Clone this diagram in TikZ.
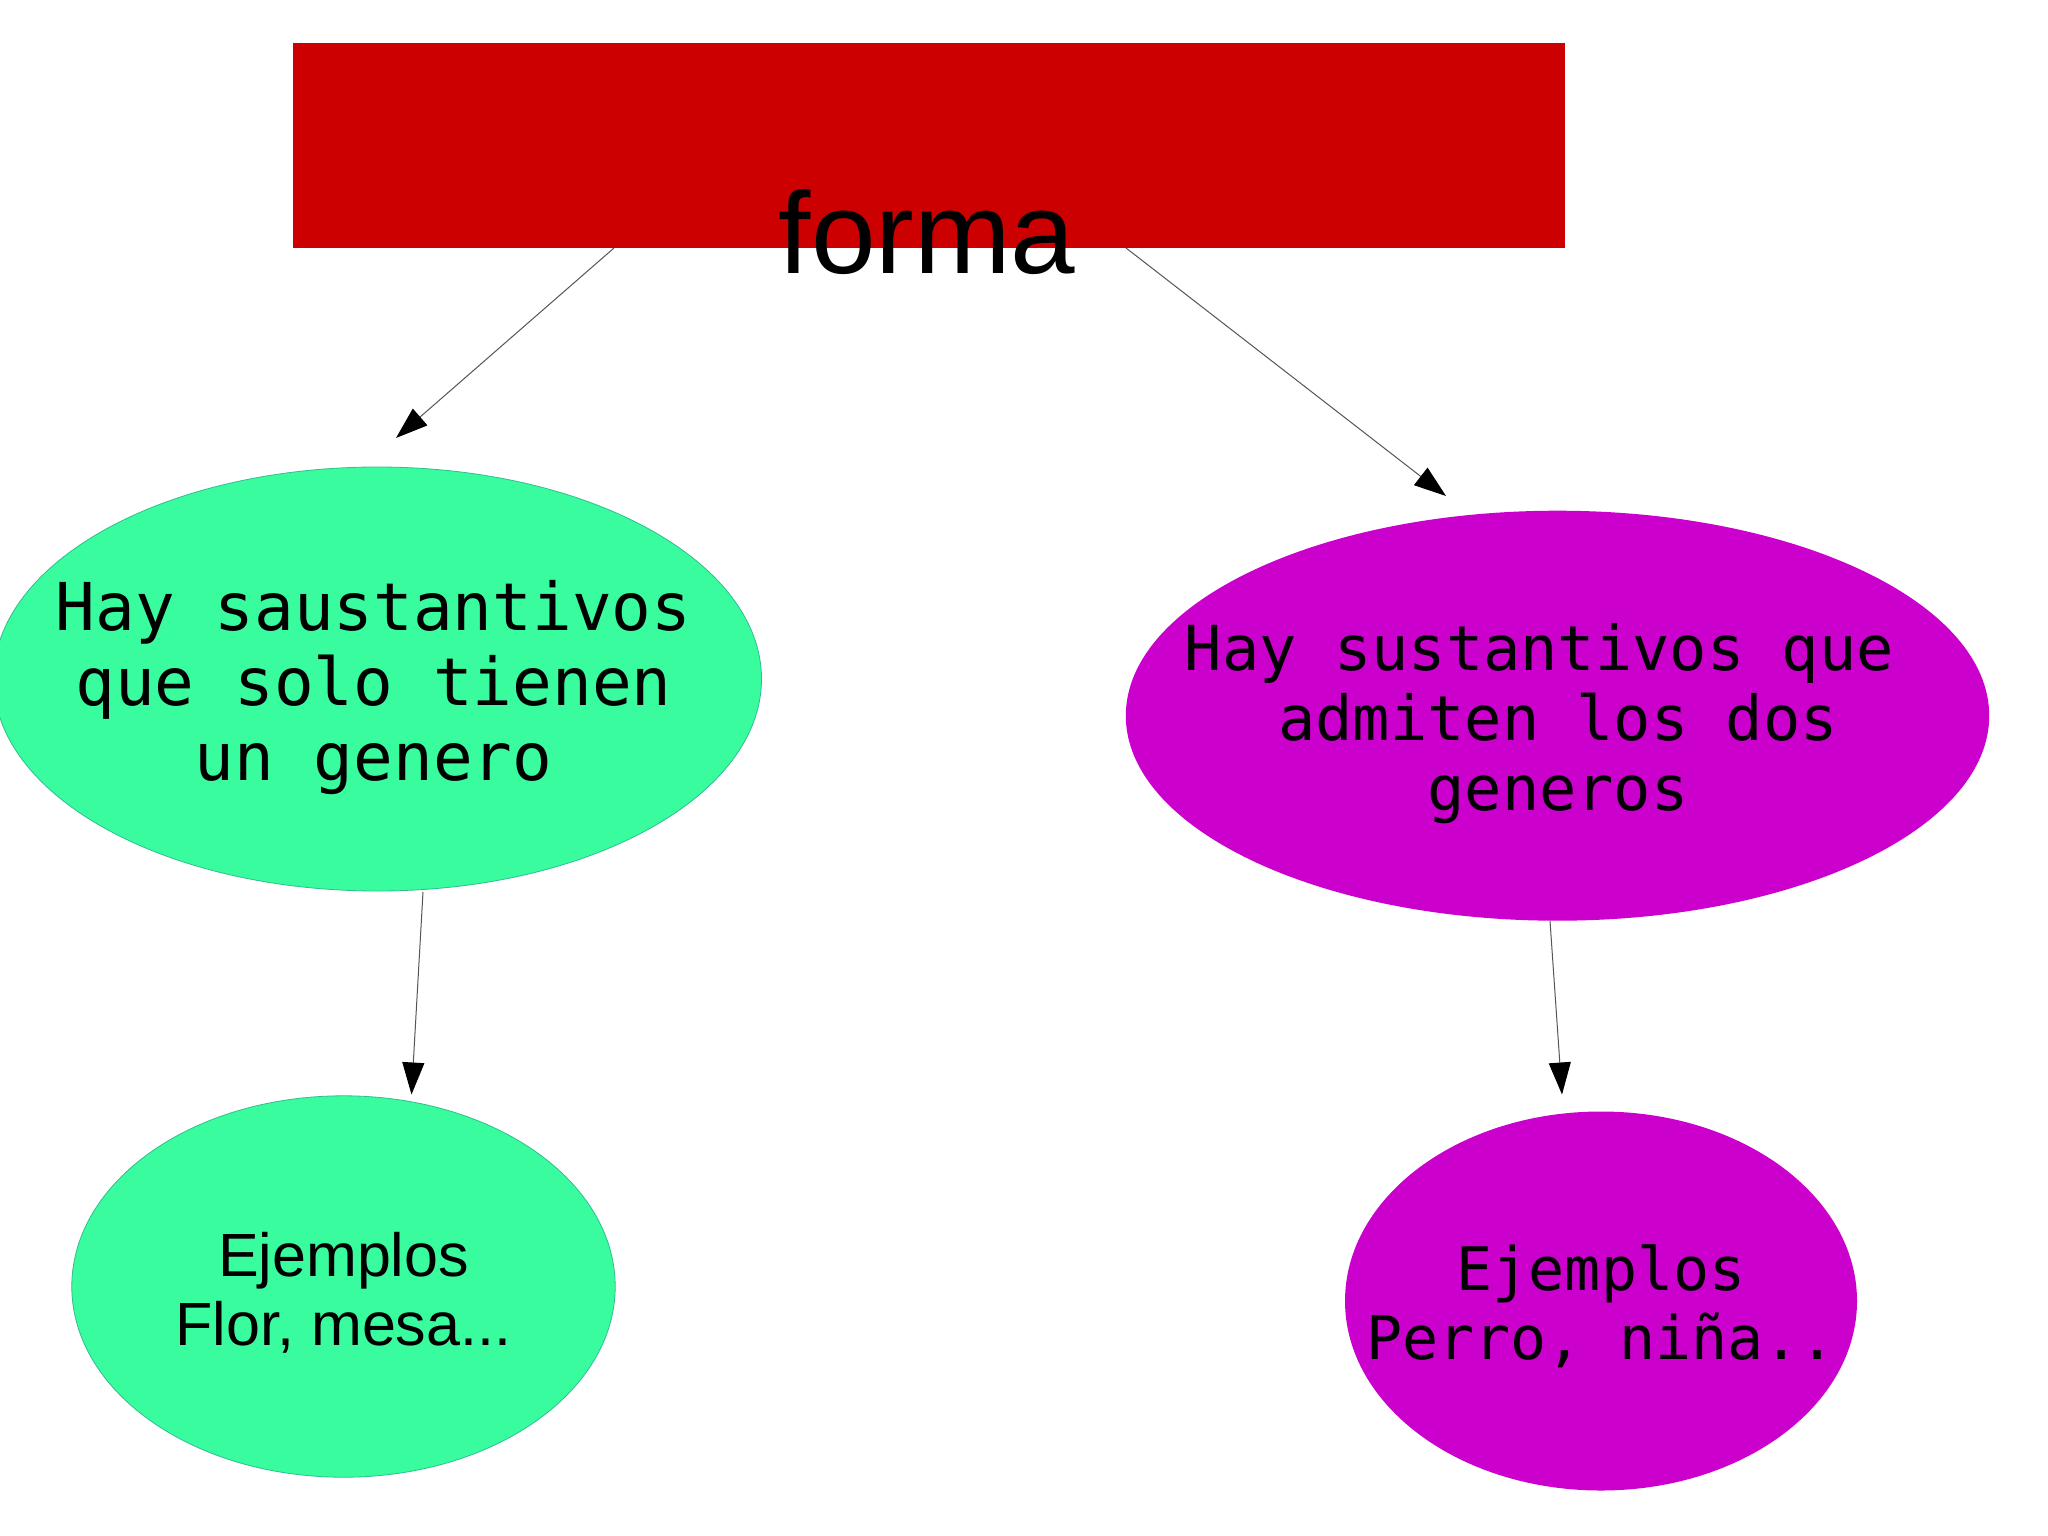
\documentclass[tikz,border=0pt]{standalone}
\usepackage{fontspec}
\setmainfont{Liberation Sans}
\newfontfamily\monofont{DejaVu Sans Mono}
\usetikzlibrary{shapes.geometric,arrows.meta}
\definecolor{titlered}{HTML}{CC0000}
\definecolor{mint}{HTML}{38FC9E}
\definecolor{mintline}{HTML}{2FBF8F}
\definecolor{magenta2}{HTML}{CC00CC}
\definecolor{linkgray}{HTML}{555555}
\tikzset{
  titlebox/.style={rectangle, fill=titlered, draw=none, inner sep=0pt},
  greenell/.style={ellipse, fill=mint, draw=mintline, line width=0.4pt, inner sep=0pt},
  magell/.style={ellipse, fill=magenta2, draw=none, inner sep=0pt},
  txt/.style={align=center, inner sep=0pt, text=black},
  link/.style={draw=linkgray, line width=0.5pt, -{Triangle[length=16pt,width=11pt,fill=black,color=black]}}
}
\begin{document}
\begin{tikzpicture}[x=0.5pt,y=-0.5pt]
\path[use as bounding box, fill=white] (0,0) rectangle (2048,1535);
% title
\node[titlebox, minimum width=636pt, minimum height=102.5pt] (title) at (928.6,145.6) {};
\node[txt, anchor=base, font=\fontsize{58}{60}\selectfont] (forma) at (927,274) {forma};
% ellipses
\node[greenell, minimum width=384pt, minimum height=212pt] (e1) at (377.5,679) {};
\node[magell, minimum width=431.7pt, minimum height=205pt] (e2) at (1557.5,715.7) {};
\node[greenell, minimum width=271.7pt, minimum height=190.7pt] (e3) at (343.5,1286.5) {};
\node[magell, minimum width=256pt, minimum height=189.5pt] (e4) at (1601,1301) {};
% texts
\node[txt, font=\monofont\fontsize{33}{37.5}\selectfont] (t1) at (373.5,688) {Hay saustantivos\\que solo tienen\\un genero};
\node[txt, font=\monofont\fontsize{31}{35}\selectfont] (t2) at (1558,724) {Hay sustantivos que\hphantom{e}\\admiten los dos\\generos};
\node[txt, font=\fontsize{30.5}{34.5}\selectfont] (t3) at (343.5,1293) {Ejemplos\\Flor, mesa...};
\node[txt, font=\monofont\fontsize{30}{34.5}\selectfont] (t4) at (1601,1306) {Ejemplos\\Perro, niña..};
% connector end points
\coordinate (a1s) at (614,248);
\coordinate (a1e) at (396,438);
\coordinate (a2s) at (1126,248);
\coordinate (a2e) at (1446,496);
\coordinate (a3s) at (423,892);
\coordinate (a3e) at (411.5,1094.5);
\coordinate (a4s) at (1550,921);
\coordinate (a4e) at (1562,1094.5);
\draw[link] (a1s) -- (a1e);
\draw[link] (a2s) -- (a2e);
\draw[link] (a3s) -- (a3e);
\draw[link] (a4s) -- (a4e);
\end{tikzpicture}
\end{document}
